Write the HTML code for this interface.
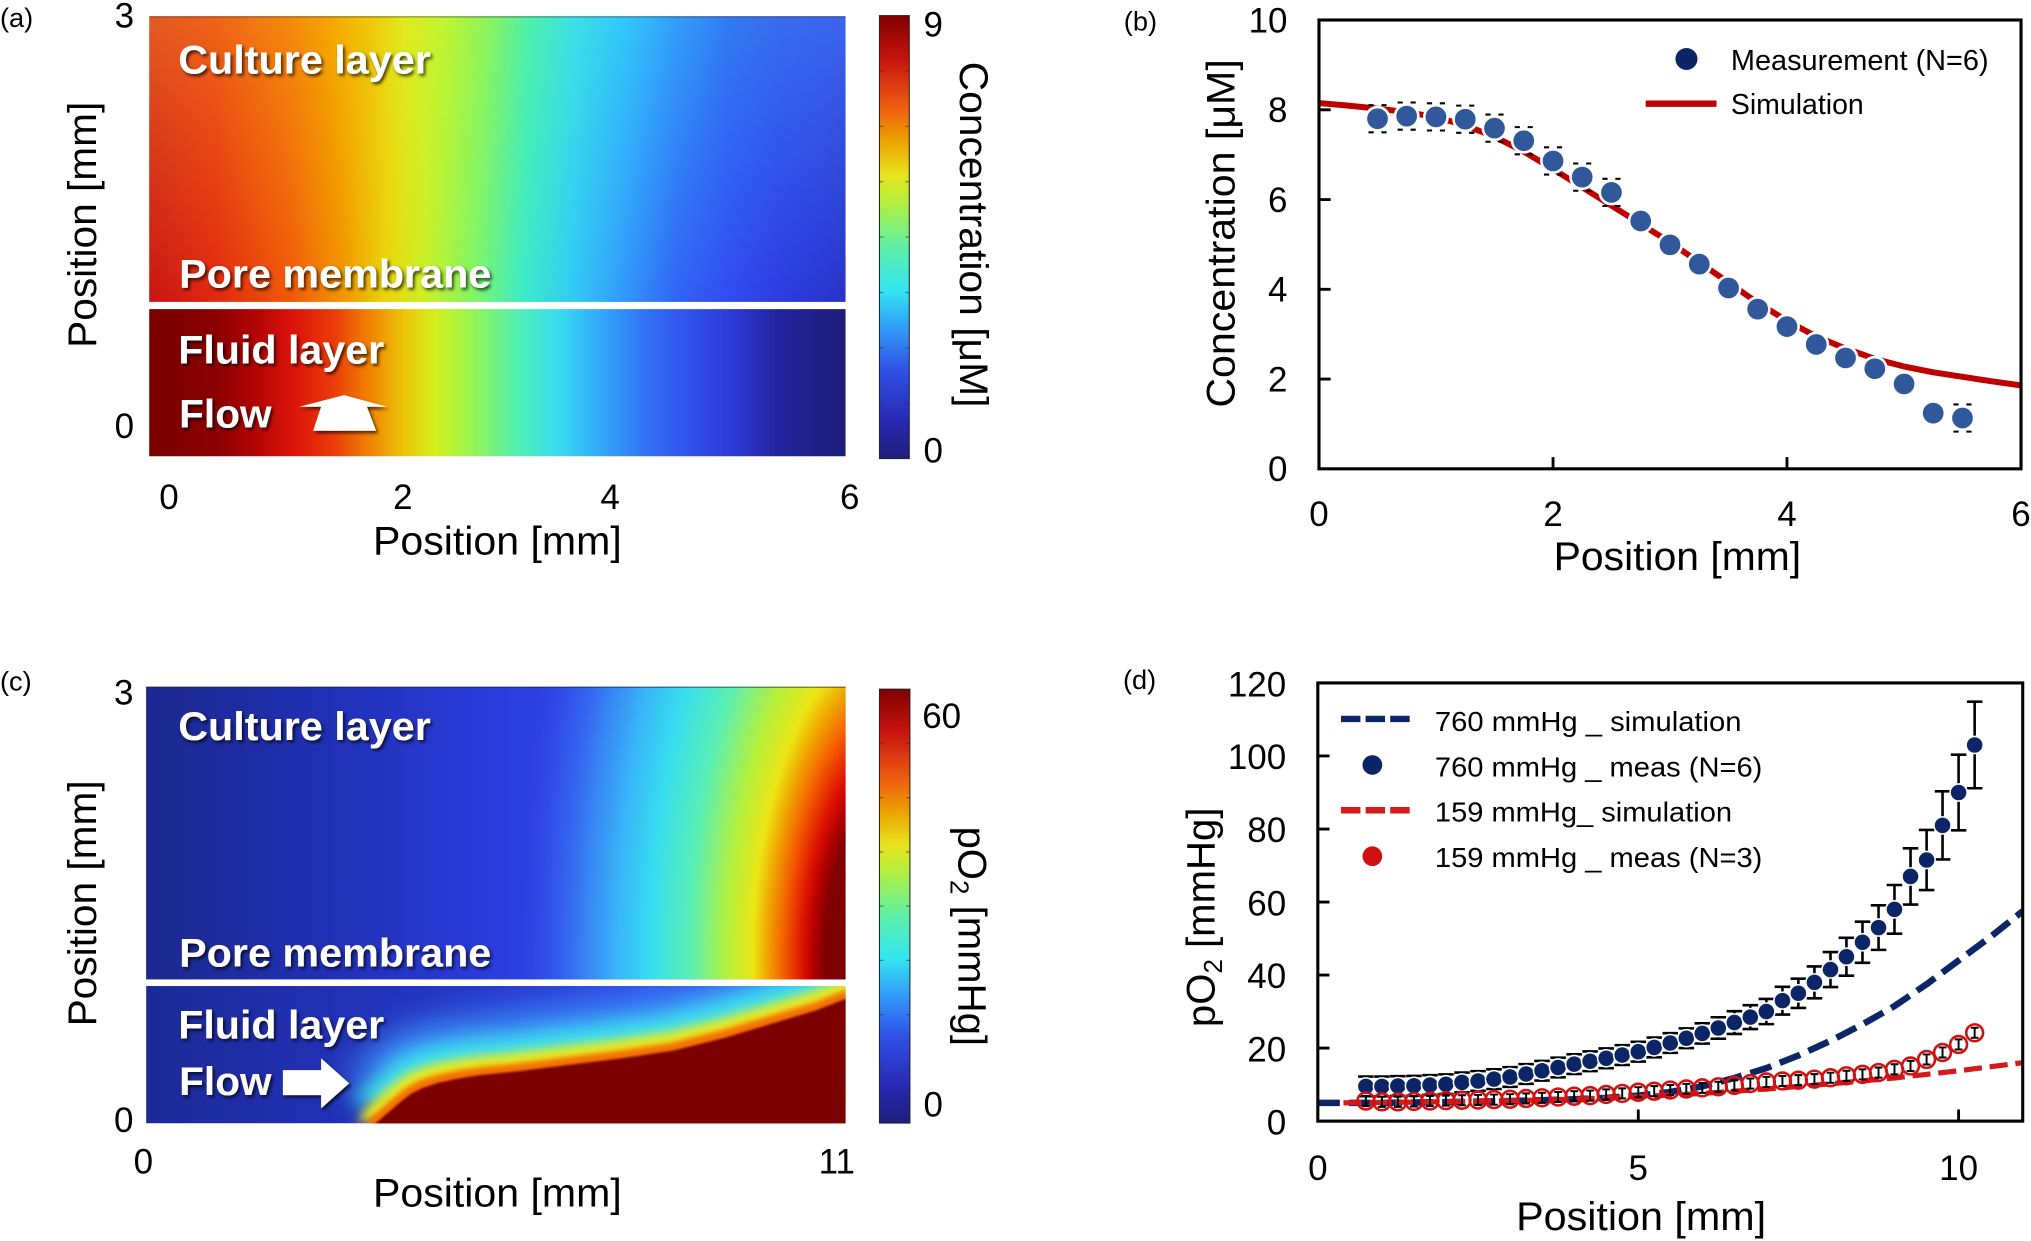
<!DOCTYPE html>
<html><head><meta charset="utf-8">
<style>
html,body{margin:0;padding:0;background:#fff}
svg{display:block}
text{font-family:"Liberation Sans",Arial,sans-serif;fill:#000}
</style></head>
<body>
<svg width="2031" height="1241" viewBox="0 0 1568 958" xmlns="http://www.w3.org/2000/svg">
<defs>
  <linearGradient id="aTop" gradientUnits="userSpaceOnUse" x1="115.2" y1="0" x2="652.8" y2="0">
    <stop offset="0" stop-color="#e45a22"/><stop offset="0.097" stop-color="#f06418"/>
    <stop offset="0.207" stop-color="#f58c0c"/><stop offset="0.265" stop-color="#f5aa00"/>
    <stop offset="0.316" stop-color="#f0c80a"/><stop offset="0.368" stop-color="#e1eb1e"/>
    <stop offset="0.426" stop-color="#bef532"/><stop offset="0.485" stop-color="#8cf55a"/>
    <stop offset="0.544" stop-color="#50f0aa"/><stop offset="0.61" stop-color="#3ce1e6"/>
    <stop offset="0.683" stop-color="#32c8fa"/><stop offset="0.756" stop-color="#32a0fa"/>
    <stop offset="0.829" stop-color="#327df5"/><stop offset="0.903" stop-color="#376ef0"/>
    <stop offset="1" stop-color="#3c64f0"/>
  </linearGradient>
  <linearGradient id="aBot" gradientUnits="userSpaceOnUse" x1="115.2" y1="0" x2="652.8" y2="0">
    <stop offset="0" stop-color="#c81414"/><stop offset="0.097" stop-color="#e1280f"/>
    <stop offset="0.207" stop-color="#f05a0a"/><stop offset="0.28" stop-color="#f09600"/>
    <stop offset="0.339" stop-color="#ebd20a"/><stop offset="0.397" stop-color="#c8f028"/>
    <stop offset="0.463" stop-color="#82f564"/><stop offset="0.536" stop-color="#3cebc8"/>
    <stop offset="0.61" stop-color="#32c8f5"/><stop offset="0.683" stop-color="#3296fa"/>
    <stop offset="0.756" stop-color="#3264f5"/><stop offset="0.829" stop-color="#324bf0"/>
    <stop offset="0.903" stop-color="#2d3ce1"/><stop offset="1" stop-color="#2832c8"/>
  </linearGradient>
  <linearGradient id="aFl" gradientUnits="userSpaceOnUse" x1="115.2" y1="0" x2="652.8" y2="0">
    <stop offset="0" stop-color="#780000"/><stop offset="0.097" stop-color="#8c0000"/>
    <stop offset="0.155" stop-color="#b40505"/><stop offset="0.207" stop-color="#dc140a"/>
    <stop offset="0.265" stop-color="#eb3c0a"/><stop offset="0.316" stop-color="#f08200"/>
    <stop offset="0.368" stop-color="#ebc80a"/><stop offset="0.412" stop-color="#d2f01e"/>
    <stop offset="0.463" stop-color="#96f550"/><stop offset="0.529" stop-color="#50f0b4"/>
    <stop offset="0.588" stop-color="#37dcf0"/><stop offset="0.646" stop-color="#32aafa"/>
    <stop offset="0.705" stop-color="#3278f5"/><stop offset="0.756" stop-color="#325af0"/>
    <stop offset="0.829" stop-color="#2d3cdc"/><stop offset="0.903" stop-color="#2323a0"/>
    <stop offset="1" stop-color="#1c1c78"/>
  </linearGradient>
  <linearGradient id="vm" x1="0" y1="0" x2="0" y2="1">
    <stop offset="0" stop-color="#000"/><stop offset="1" stop-color="#fff"/>
  </linearGradient>
  <mask id="ma"><rect x="115.2" y="12.5" width="537.6" height="220.5" fill="url(#vm)"/></mask>

  <linearGradient id="cBase" gradientUnits="userSpaceOnUse" x1="112.8" y1="0" x2="652.8" y2="0">
    <stop offset="0" stop-color="#1c288e"/><stop offset="0.25" stop-color="#2030b4"/>
    <stop offset="0.5" stop-color="#2a3cdc"/><stop offset="0.65" stop-color="#3246ec"/>
    <stop offset="1" stop-color="#3246ec"/>
  </linearGradient>
  <radialGradient id="cRad" gradientUnits="userSpaceOnUse" cx="700" cy="740" r="300" fx="700" fy="740"
     gradientTransform="translate(700 740) scale(1 2.13) translate(-700 -740)">
    <stop offset="0" stop-color="#6e0000"/><stop offset="0.213" stop-color="#820000"/>
    <stop offset="0.24" stop-color="#b40000"/><stop offset="0.267" stop-color="#dc1000"/>
    <stop offset="0.32" stop-color="#f56400"/><stop offset="0.36" stop-color="#f0a800"/>
    <stop offset="0.397" stop-color="#ebe614"/><stop offset="0.463" stop-color="#b4f03c"/>
    <stop offset="0.557" stop-color="#5af0b4"/><stop offset="0.66" stop-color="#37dcf0"/>
    <stop offset="0.74" stop-color="#38b8f8"/>
    <stop offset="0.82" stop-color="#3890f6" stop-opacity="0.9"/>
    <stop offset="0.9" stop-color="#3670f2" stop-opacity="0.55"/>
    <stop offset="1" stop-color="#3450ee" stop-opacity="0"/>
  </radialGradient>
  <linearGradient id="cFl" gradientUnits="userSpaceOnUse" x1="112.8" y1="0" x2="652.8" y2="0">
    <stop offset="0" stop-color="#1c2a96"/><stop offset="0.4" stop-color="#2434c4"/>
    <stop offset="0.7" stop-color="#2d46e6"/><stop offset="1" stop-color="#3250f0"/>
  </linearGradient>
  <linearGradient id="jet" x1="0" y1="0" x2="0" y2="1">
    <stop offset="0" stop-color="#800000"/><stop offset="0.1" stop-color="#c8140f"/>
    <stop offset="0.21" stop-color="#f05f10"/><stop offset="0.28" stop-color="#eba000"/>
    <stop offset="0.36" stop-color="#e8e41e"/><stop offset="0.42" stop-color="#b4f03c"/>
    <stop offset="0.52" stop-color="#5ff0a5"/><stop offset="0.62" stop-color="#32e6f0"/>
    <stop offset="0.7" stop-color="#32a0f8"/><stop offset="0.8" stop-color="#3050e8"/>
    <stop offset="0.92" stop-color="#2828b0"/><stop offset="1" stop-color="#1e1e7a"/>
  </linearGradient>
  <filter id="sh" x="-10%" y="-40%" width="130%" height="190%">
    <feDropShadow dx="1.5" dy="1.8" stdDeviation="1.3" flood-color="#000" flood-opacity="0.7"/>
  </filter>
  <filter id="b12" x="-30%" y="-100%" width="160%" height="300%"><feGaussianBlur stdDeviation="12"/></filter>
  <filter id="b7" x="-30%" y="-100%" width="160%" height="300%"><feGaussianBlur stdDeviation="7"/></filter>
  <filter id="b4" x="-30%" y="-80%" width="160%" height="260%"><feGaussianBlur stdDeviation="4"/></filter>
  <filter id="b2" x="-30%" y="-80%" width="160%" height="260%"><feGaussianBlur stdDeviation="2"/></filter>
  <filter id="b1" x="-30%" y="-80%" width="160%" height="260%"><feGaussianBlur stdDeviation="0.9"/></filter>
  <clipPath id="cfc"><rect x="112.8" y="761.2" width="540" height="106"/></clipPath>
  <clipPath id="bclip"><rect x="1018.3" y="15.4" width="542" height="346.5"/></clipPath>
  <clipPath id="dclip"><rect x="1017.4" y="527.2" width="544.2" height="338.3"/></clipPath>
  <polygon id="bnd" points="289,868 296,862 303,856 310,850 318,844 326,840 338,836 352,833 370,830 400,827 440,822 480,817 520,811 560,801 600,789 630,780 653,771 700,771 700,880 280,880"/>
  <path id="ib" d="M0-3.9V3.9M-3-3.9h6M-3 3.9h6" stroke="#000" stroke-width="1.5" fill="none"/>
  <path id="bc" d="M-7-10.5h14M-7 10.5h14" stroke="#000" stroke-width="1.6" fill="none" stroke-dasharray="4 6"/>
</defs>

<!-- ================= (a) ================= -->
<text x="0" y="21" font-size="21">(a)</text>
<rect x="115.2" y="12.5" width="537.6" height="220.5" fill="url(#aTop)"/>
<rect x="115.2" y="12.5" width="537.6" height="220.5" fill="url(#aBot)" mask="url(#ma)"/>
<rect x="115.2" y="238.6" width="537.6" height="113.6" fill="url(#aFl)"/>
<line x1="115.2" y1="13" x2="652.8" y2="13" stroke="#333" stroke-width="1" opacity="0.5"/>
<g fill="#fff" font-weight="bold" font-size="30.5" filter="url(#sh)">
  <text x="137.6" y="56.6" textLength="195" lengthAdjust="spacingAndGlyphs" style="fill:#fff">Culture layer</text>
  <text x="138.3" y="222.1" textLength="241" lengthAdjust="spacingAndGlyphs" style="fill:#fff">Pore membrane</text>
  <text x="137.6" y="280.5" textLength="159" lengthAdjust="spacingAndGlyphs" style="fill:#fff">Fluid layer</text>
  <text x="138.3" y="329.9" textLength="71.4" lengthAdjust="spacingAndGlyphs" style="fill:#fff">Flow</text>
  <polygon points="265.6,305 299,314 283.3,314 290.4,332.5 241.8,332.5 247.9,314 231,314" fill="#fff"/>
</g>
<rect x="679" y="12" width="23" height="342" fill="url(#jet)" stroke="#222" stroke-width="0.8"/>
<g stroke="#333" stroke-width="1" opacity="0.55">
  <path d="M679 54.75h3M699 54.75h3M679 97.5h3M699 97.5h3M679 140.25h3M699 140.25h3M679 183h3M699 183h3M679 225.75h3M699 225.75h3M679 268.5h3M699 268.5h3M679 311.25h3M699 311.25h3"/>
</g>
<g font-size="27">
  <text x="96" y="21" text-anchor="middle">3</text>
  <text x="96" y="338" text-anchor="middle">0</text>
  <text x="130.5" y="393" text-anchor="middle">0</text>
  <text x="311" y="393" text-anchor="middle">2</text>
  <text x="471" y="393" text-anchor="middle">4</text>
  <text x="656" y="393" text-anchor="middle">6</text>
  <text x="713" y="28">9</text>
  <text x="713" y="357">0</text>
</g>
<text x="384" y="428" font-size="31" text-anchor="middle" textLength="192" lengthAdjust="spacingAndGlyphs">Position [mm]</text>
<text transform="translate(74 173.5) rotate(-90)" font-size="31" text-anchor="middle" textLength="190" lengthAdjust="spacingAndGlyphs">Position [mm]</text>
<text transform="translate(741 181) rotate(90)" font-size="31" text-anchor="middle" textLength="267" lengthAdjust="spacingAndGlyphs">Concentration [μM]</text>

<!-- ================= (c) ================= -->
<text x="0" y="533" font-size="21">(c)</text>
<rect x="112.8" y="530.1" width="540" height="226" fill="url(#cBase)"/>
<rect x="112.8" y="530.1" width="540" height="226" fill="url(#cRad)"/>
<line x1="112.8" y1="530.6" x2="652.8" y2="530.6" stroke="#222" stroke-width="1" opacity="0.5"/>
<g clip-path="url(#cfc)">
  <rect x="112.8" y="761.2" width="540" height="106" fill="url(#cFl)"/>
  <use href="#bnd" transform="translate(-16 -44)" fill="#3a8cf6" filter="url(#b12)"/>
  <use href="#bnd" transform="translate(-10 -27)" fill="#3ce2ee" filter="url(#b7)"/>
  <use href="#bnd" transform="translate(-5 -14)" fill="#e8ea1e" filter="url(#b4)"/>
  <use href="#bnd" transform="translate(-2 -6)" fill="#f57000" filter="url(#b2)"/>
  <use href="#bnd" fill="#7c0000" filter="url(#b1)"/>
</g>
<g font-weight="bold" font-size="30.5" filter="url(#sh)">
  <text x="137.6" y="571.3" textLength="195" lengthAdjust="spacingAndGlyphs" style="fill:#fff">Culture layer</text>
  <text x="138.3" y="746.3" textLength="241" lengthAdjust="spacingAndGlyphs" style="fill:#fff">Pore membrane</text>
  <text x="137.6" y="801.6" textLength="159" lengthAdjust="spacingAndGlyphs" style="fill:#fff">Fluid layer</text>
  <text x="138.3" y="845.4" textLength="71.4" lengthAdjust="spacingAndGlyphs" style="fill:#fff">Flow</text>
  <polygon points="218.4,826.1 247.9,826.1 247.9,817 269.6,836.4 247.9,855.7 247.9,845.4 218.4,845.4" fill="#fff"/>
</g>
<rect x="679" y="532" width="23.5" height="335" fill="url(#jet)" stroke="#222" stroke-width="0.8"/>
<g stroke="#333" stroke-width="1" opacity="0.55">
  <path d="M679 573.9h3M699.5 573.9h3M679 615.75h3M699.5 615.75h3M679 657.6h3M699.5 657.6h3M679 699.5h3M699.5 699.5h3M679 741.4h3M699.5 741.4h3M679 783.25h3M699.5 783.25h3M679 825.1h3M699.5 825.1h3"/>
</g>
<g font-size="27">
  <text x="95.5" y="544" text-anchor="middle">3</text>
  <text x="95.5" y="874" text-anchor="middle">0</text>
  <text x="110.7" y="906" text-anchor="middle">0</text>
  <text x="646" y="906" text-anchor="middle">11</text>
  <text x="712" y="562">60</text>
  <text x="713" y="862">0</text>
</g>
<text x="384" y="931.5" font-size="31" text-anchor="middle" textLength="192" lengthAdjust="spacingAndGlyphs">Position [mm]</text>
<text transform="translate(74 697.4) rotate(-90)" font-size="31" text-anchor="middle" textLength="190" lengthAdjust="spacingAndGlyphs">Position [mm]</text>
<text transform="translate(740 638) rotate(90)" font-size="31">pO<tspan font-size="20" dy="6">2</tspan><tspan dy="-6"> [mmHg]</tspan></text>

<!-- ================= (b) ================= -->
<text x="867.6" y="23.5" font-size="21">(b)</text>
<g font-size="27">
  <text x="994" y="25" text-anchor="end">10</text>
  <text x="994" y="94.3" text-anchor="end">8</text>
  <text x="994" y="163.6" text-anchor="end">6</text>
  <text x="994" y="232.9" text-anchor="end">4</text>
  <text x="994" y="302.2" text-anchor="end">2</text>
  <text x="994" y="371.5" text-anchor="end">0</text>
  <text x="1018.3" y="406" text-anchor="middle">0</text>
  <text x="1199" y="406" text-anchor="middle">2</text>
  <text x="1379.6" y="406" text-anchor="middle">4</text>
  <text x="1560.3" y="406" text-anchor="middle">6</text>
</g>
<text x="1295" y="440" font-size="31" text-anchor="middle" textLength="191" lengthAdjust="spacingAndGlyphs">Position [mm]</text>
<text transform="translate(953 180.2) rotate(-90)" font-size="31" text-anchor="middle" textLength="269" lengthAdjust="spacingAndGlyphs">Concentration [μM]</text>
<g clip-path="url(#bclip)">
  <polyline fill="none" stroke="#c00000" stroke-width="4.6" stroke-linejoin="round" points="1018.3,79.5 1040.9,81.5 1063.5,83.8 1086,86.6 1108.6,90.3 1131.2,96.8 1153.8,105.5 1176.4,117 1199,130.5 1221.5,144.5 1244.1,158.7 1266.7,172.8 1289.3,187 1311.9,202.5 1334.5,218.1 1357,233.7 1379.6,247.6 1402.2,259.7 1424.8,269 1447.4,277 1470,282.9 1492.5,287.4 1515.1,290.9 1537.7,294.3 1560.3,297.5"/>
  <use href="#bc" x="1063.5" y="91.6"/><use href="#bc" x="1086" y="89.6"/><use href="#bc" x="1108.6" y="90.2"/>
  <use href="#bc" x="1131.2" y="92"/><use href="#bc" x="1153.8" y="98.9"/><use href="#bc" x="1176.4" y="108.6"/>
  <use href="#bc" x="1199" y="124.2"/><use href="#bc" x="1221.5" y="136.7"/><use href="#bc" x="1244.1" y="148.5"/>
  <use href="#bc" x="1515.1" y="322.7"/>
  <g fill="#30589a" stroke="#fff" stroke-width="2">
    <circle cx="1063.5" cy="91.6" r="9"/><circle cx="1086" cy="89.6" r="9"/><circle cx="1108.6" cy="90.2" r="9"/>
    <circle cx="1131.2" cy="92" r="9"/><circle cx="1153.8" cy="98.9" r="9"/><circle cx="1176.4" cy="108.6" r="9"/>
    <circle cx="1199" cy="124.2" r="9"/><circle cx="1221.5" cy="136.7" r="9"/><circle cx="1244.1" cy="148.5" r="9"/>
    <circle cx="1266.7" cy="170.6" r="9"/><circle cx="1289.3" cy="189" r="9"/><circle cx="1311.9" cy="203.9" r="9"/>
    <circle cx="1334.5" cy="222.3" r="9"/><circle cx="1357" cy="238.6" r="9"/><circle cx="1379.6" cy="252.1" r="9"/>
    <circle cx="1402.2" cy="265.9" r="9"/><circle cx="1424.8" cy="276.3" r="9"/><circle cx="1447.4" cy="284.6" r="9"/>
    <circle cx="1470" cy="296.4" r="9"/><circle cx="1492.5" cy="318.9" r="9"/><circle cx="1515.1" cy="322.7" r="9"/>
  </g>
</g>
<rect x="1018.3" y="15.4" width="542" height="346.5" fill="none" stroke="#000" stroke-width="2.4"/>
<path d="M1018.3 84.7h9M1018.3 154h9M1018.3 223.3h9M1018.3 292.6h9M1199 361.9v-9M1379.6 361.9v-9" stroke="#000" stroke-width="2.2"/>
<circle cx="1302" cy="45.5" r="8.5" fill="#0b2566"/>
<text x="1336.3" y="54" font-size="22" textLength="199" lengthAdjust="spacingAndGlyphs">Measurement (N=6)</text>
<line x1="1270.5" y1="80" x2="1325.2" y2="80" stroke="#c00000" stroke-width="5"/>
<text x="1336.3" y="88" font-size="22" textLength="102.6" lengthAdjust="spacingAndGlyphs">Simulation</text>

<!-- ================= (d) ================= -->
<text x="867" y="532" font-size="21">(d)</text>
<g font-size="27">
  <text x="993" y="537.5" text-anchor="end">120</text>
  <text x="993" y="593.8" text-anchor="end">100</text>
  <text x="993" y="650.2" text-anchor="end">80</text>
  <text x="993" y="706.6" text-anchor="end">60</text>
  <text x="993" y="762.9" text-anchor="end">40</text>
  <text x="993" y="819.3" text-anchor="end">20</text>
  <text x="993" y="875.7" text-anchor="end">0</text>
  <text x="1017.4" y="911" text-anchor="middle">0</text>
  <text x="1264.8" y="911" text-anchor="middle">5</text>
  <text x="1512.1" y="911" text-anchor="middle">10</text>
</g>
<text x="1267" y="949.6" font-size="31" text-anchor="middle" textLength="193" lengthAdjust="spacingAndGlyphs">Position [mm]</text>
<text transform="translate(937.5 792.9) rotate(-90)" font-size="31">pO<tspan font-size="20" dy="6">2</tspan><tspan dy="-6"> [mmHg]</tspan></text>
<g clip-path="url(#dclip)">
  <polyline fill="none" stroke="#0b2566" stroke-width="5" stroke-dasharray="17 7" stroke-linejoin="round" points="1017.4,851.4 1066.9,851.4 1116.3,850.8 1165.8,850 1215.3,848.6 1240,847.5 1264.8,845.8 1289.5,843 1314.2,838.7 1339,832.2 1363.7,824.6 1388.4,814.8 1413.2,803.5 1437.9,790.8 1462.6,776.7 1487.4,759.8 1512.1,741.5 1536.9,723.1 1561.6,703.4"/>
  <polyline fill="none" stroke="#d41a1a" stroke-width="4" stroke-dasharray="14 6" stroke-linejoin="round" points="1037.2,851.4 1066.9,851.1 1116.3,850.6 1165.8,849.7 1215.3,848.6 1264.8,846.6 1314.2,844.1 1363.7,840.7 1413.2,836.7 1462.6,832.2 1512.1,826.6 1561.6,820.4"/>
  <path fill="none" stroke="#000" stroke-width="2" d="M1054.5 831.1V846.3M1048.5 831.1h12M1048.5 846.3h12M1066.9 831.1V846.3M1060.9 831.1h12M1060.9 846.3h12M1079.2 830.8V846M1073.2 830.8h12M1073.2 846h12M1091.6 830.6V845.8M1085.6 830.6h12M1085.6 845.8h12M1104 830V845.2M1098 830h12M1098 845.2h12M1116.3 829.4V844.6M1110.3 829.4h12M1110.3 844.6h12M1128.7 828V843.2M1122.7 828h12M1122.7 843.2h12M1141.1 826.9V842.1M1135.1 826.9h12M1135.1 842.1h12M1153.4 825.5V840.7M1147.4 825.5h12M1147.4 840.7h12M1165.8 823.8V839M1159.8 823.8h12M1159.8 839h12M1178.2 821.5V836.7M1172.2 821.5h12M1172.2 836.7h12M1190.5 819V834.2M1184.5 819h12M1184.5 834.2h12M1202.9 816.5V831.7M1196.9 816.5h12M1196.9 831.7h12M1215.3 813.9V829.1M1209.3 813.9h12M1209.3 829.1h12M1227.6 811.7V826.9M1221.6 811.7h12M1221.6 826.9h12M1240 809.4V824.6M1234 809.4h12M1234 824.6h12M1252.4 806.9V822.1M1246.4 806.9h12M1246.4 822.1h12M1264.8 804.3V819.5M1258.8 804.3h12M1258.8 819.5h12M1277.1 801V816.2M1271.1 801h12M1271.1 816.2h12M1289.5 797.6V812.8M1283.5 797.6h12M1283.5 812.8h12M1301.9 793.9V809.1M1295.9 793.9h12M1295.9 809.1h12M1314.2 790V805.6M1308.2 790h12M1308.2 805.6h12M1326.6 785.3V801.9M1320.6 785.3h12M1320.6 801.9h12M1339 780.6V798.2M1333 780.6h12M1333 798.2h12M1351.3 776V794.4M1345.3 776h12M1345.3 794.4h12M1363.7 771.2V790.6M1357.7 771.2h12M1357.7 790.6h12M1376.1 761.8V783.2M1370.1 761.8h12M1370.1 783.2h12M1388.4 755.5V778.1M1382.4 755.5h12M1382.4 778.1h12M1400.8 746.1V770.7M1394.8 746.1h12M1394.8 770.7h12M1413.2 735V762M1407.2 735h12M1407.2 762h12M1425.5 724V753.2M1419.5 724h12M1419.5 753.2h12M1437.9 711.5V743.3M1431.9 711.5h12M1431.9 743.3h12M1450.3 698.9V733.3M1444.3 698.9h12M1444.3 733.3h12M1462.6 683.2V720.8M1456.6 683.2h12M1456.6 720.8h12M1475 654.9V698.3M1469 654.9h12M1469 698.3h12M1487.4 640.7V687.1M1481.4 640.7h12M1481.4 687.1h12M1499.7 610.9V663.5M1493.7 610.9h12M1493.7 663.5h12M1512.1 582.6V641M1506.1 582.6h12M1506.1 641h12M1524.5 541.7V608.5M1518.5 541.7h12M1518.5 608.5h12"/>
  <g fill="#0b2566" stroke="#fff" stroke-width="1.2">
    <circle cx="1054.5" cy="838.7" r="6.6"/><circle cx="1066.9" cy="838.7" r="6.6"/><circle cx="1079.2" cy="838.4" r="6.6"/>
    <circle cx="1091.6" cy="838.2" r="6.6"/><circle cx="1104" cy="837.6" r="6.6"/><circle cx="1116.3" cy="837" r="6.6"/>
    <circle cx="1128.7" cy="835.6" r="6.6"/><circle cx="1141.1" cy="834.5" r="6.6"/><circle cx="1153.4" cy="833.1" r="6.6"/>
    <circle cx="1165.8" cy="831.4" r="6.6"/><circle cx="1178.2" cy="829.1" r="6.6"/><circle cx="1190.5" cy="826.6" r="6.6"/>
    <circle cx="1202.9" cy="824.1" r="6.6"/><circle cx="1215.3" cy="821.5" r="6.6"/><circle cx="1227.6" cy="819.3" r="6.6"/>
    <circle cx="1240" cy="817" r="6.6"/><circle cx="1252.4" cy="814.5" r="6.6"/><circle cx="1264.8" cy="811.9" r="6.6"/>
    <circle cx="1277.1" cy="808.6" r="6.6"/><circle cx="1289.5" cy="805.2" r="6.6"/><circle cx="1301.9" cy="801.5" r="6.6"/>
    <circle cx="1314.2" cy="797.8" r="6.6"/><circle cx="1326.6" cy="793.6" r="6.6"/><circle cx="1339" cy="789.4" r="6.6"/>
    <circle cx="1351.3" cy="785.2" r="6.6"/><circle cx="1363.7" cy="780.9" r="6.6"/><circle cx="1376.1" cy="772.5" r="6.6"/>
    <circle cx="1388.4" cy="766.8" r="6.6"/><circle cx="1400.8" cy="758.4" r="6.6"/><circle cx="1413.2" cy="748.5" r="6.6"/>
    <circle cx="1425.5" cy="738.6" r="6.6"/><circle cx="1437.9" cy="727.4" r="6.6"/><circle cx="1450.3" cy="716.1" r="6.6"/>
    <circle cx="1462.6" cy="702" r="6.6"/><circle cx="1475" cy="676.6" r="6.6"/><circle cx="1487.4" cy="663.9" r="6.6"/>
    <circle cx="1499.7" cy="637.2" r="6.6"/><circle cx="1512.1" cy="611.8" r="6.6"/><circle cx="1524.5" cy="575.1" r="6.6"/>
  </g>
  <g>
    <use href="#ib" x="1054.5" y="850"/><use href="#ib" x="1066.9" y="850.6"/><use href="#ib" x="1079.2" y="850.6"/>
    <use href="#ib" x="1091.6" y="850.3"/><use href="#ib" x="1104" y="850"/><use href="#ib" x="1116.3" y="849.7"/>
    <use href="#ib" x="1128.7" y="849.4"/><use href="#ib" x="1141.1" y="849.2"/><use href="#ib" x="1153.4" y="848.9"/>
    <use href="#ib" x="1165.8" y="848.6"/><use href="#ib" x="1178.2" y="848"/><use href="#ib" x="1190.5" y="847.5"/>
    <use href="#ib" x="1202.9" y="846.9"/><use href="#ib" x="1215.3" y="846.3"/><use href="#ib" x="1227.6" y="845.8"/>
    <use href="#ib" x="1240" y="844.9"/><use href="#ib" x="1252.4" y="844.1"/><use href="#ib" x="1264.8" y="843.2"/>
    <use href="#ib" x="1277.1" y="842.4"/><use href="#ib" x="1289.5" y="841.5"/><use href="#ib" x="1301.9" y="840.7"/>
    <use href="#ib" x="1314.2" y="839.8"/><use href="#ib" x="1326.6" y="839"/><use href="#ib" x="1339" y="837.9"/>
    <use href="#ib" x="1351.3" y="836.5"/><use href="#ib" x="1363.7" y="835.3"/><use href="#ib" x="1376.1" y="834.5"/>
    <use href="#ib" x="1388.4" y="833.9"/><use href="#ib" x="1400.8" y="833.1"/><use href="#ib" x="1413.2" y="832"/>
    <use href="#ib" x="1425.5" y="830.5"/><use href="#ib" x="1437.9" y="829.4"/><use href="#ib" x="1450.3" y="828"/>
    <use href="#ib" x="1462.6" y="825.5"/><use href="#ib" x="1475" y="822.9"/><use href="#ib" x="1487.4" y="817.9"/>
    <use href="#ib" x="1499.7" y="812.5"/><use href="#ib" x="1512.1" y="806.3"/><use href="#ib" x="1524.5" y="797.3"/>
  </g>
  <g fill="none" stroke="#d41010" stroke-width="2">
    <circle cx="1054.5" cy="850" r="6.5"/><circle cx="1066.9" cy="850.6" r="6.5"/><circle cx="1079.2" cy="850.6" r="6.5"/>
    <circle cx="1091.6" cy="850.3" r="6.5"/><circle cx="1104" cy="850" r="6.5"/><circle cx="1116.3" cy="849.7" r="6.5"/>
    <circle cx="1128.7" cy="849.4" r="6.5"/><circle cx="1141.1" cy="849.2" r="6.5"/><circle cx="1153.4" cy="848.9" r="6.5"/>
    <circle cx="1165.8" cy="848.6" r="6.5"/><circle cx="1178.2" cy="848" r="6.5"/><circle cx="1190.5" cy="847.5" r="6.5"/>
    <circle cx="1202.9" cy="846.9" r="6.5"/><circle cx="1215.3" cy="846.3" r="6.5"/><circle cx="1227.6" cy="845.8" r="6.5"/>
    <circle cx="1240" cy="844.9" r="6.5"/><circle cx="1252.4" cy="844.1" r="6.5"/><circle cx="1264.8" cy="843.2" r="6.5"/>
    <circle cx="1277.1" cy="842.4" r="6.5"/><circle cx="1289.5" cy="841.5" r="6.5"/><circle cx="1301.9" cy="840.7" r="6.5"/>
    <circle cx="1314.2" cy="839.8" r="6.5"/><circle cx="1326.6" cy="839" r="6.5"/><circle cx="1339" cy="837.9" r="6.5"/>
    <circle cx="1351.3" cy="836.5" r="6.5"/><circle cx="1363.7" cy="835.3" r="6.5"/><circle cx="1376.1" cy="834.5" r="6.5"/>
    <circle cx="1388.4" cy="833.9" r="6.5"/><circle cx="1400.8" cy="833.1" r="6.5"/><circle cx="1413.2" cy="832" r="6.5"/>
    <circle cx="1425.5" cy="830.5" r="6.5"/><circle cx="1437.9" cy="829.4" r="6.5"/><circle cx="1450.3" cy="828" r="6.5"/>
    <circle cx="1462.6" cy="825.5" r="6.5"/><circle cx="1475" cy="822.9" r="6.5"/><circle cx="1487.4" cy="817.9" r="6.5"/>
    <circle cx="1499.7" cy="812.5" r="6.5"/><circle cx="1512.1" cy="806.3" r="6.5"/><circle cx="1524.5" cy="797.3" r="6.5"/>
  </g>
</g>
<rect x="1017.4" y="527.2" width="544.2" height="338.3" fill="none" stroke="#000" stroke-width="2.4"/>
<path d="M1017.4 583.6h9M1017.4 640h9M1017.4 696.4h9M1017.4 752.7h9M1017.4 809.1h9M1264.8 865.5v-9M1512.1 865.5v-9" stroke="#000" stroke-width="2.2"/>
<!-- legend (d) -->
<line x1="1035.3" y1="555" x2="1088.4" y2="555" stroke="#0b2566" stroke-width="5" stroke-dasharray="15 4"/>
<text x="1107.8" y="564.5" font-size="21.5" textLength="236.7" lengthAdjust="spacingAndGlyphs">760 mmHg _ simulation</text>
<circle cx="1059.5" cy="590.5" r="7.6" fill="#0b2566"/>
<text x="1107.8" y="599.3" font-size="21.5" textLength="252.8" lengthAdjust="spacingAndGlyphs">760 mmHg _ meas (N=6)</text>
<line x1="1035.3" y1="625.5" x2="1088.4" y2="625.5" stroke="#d41a1a" stroke-width="5" stroke-dasharray="15 4"/>
<text x="1107.8" y="634.1" font-size="21.5" textLength="229.4" lengthAdjust="spacingAndGlyphs">159 mmHg_ simulation</text>
<circle cx="1059.5" cy="661" r="7.6" fill="#d01010"/>
<text x="1107.8" y="669.5" font-size="21.5" textLength="252.8" lengthAdjust="spacingAndGlyphs">159 mmHg _ meas (N=3)</text>
</svg>
</body></html>
